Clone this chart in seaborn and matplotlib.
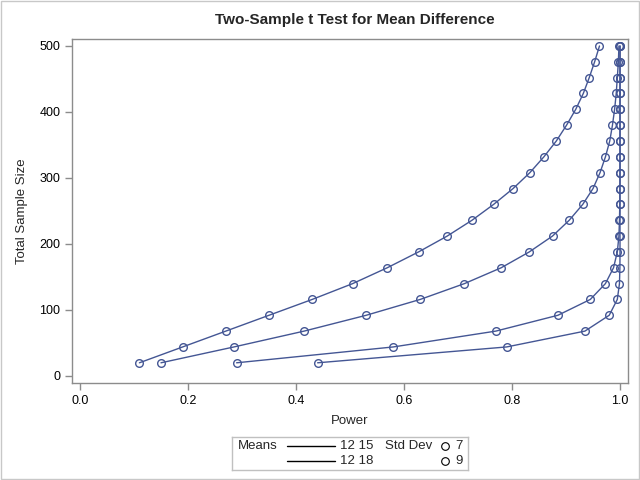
import pandas as pd
import matplotlib.pyplot as plt
import seaborn as sns
from matplotlib.patches import Rectangle
from matplotlib.lines import Line2D

# sample sizes (total N) shared by every curve
sample_sizes = [20, 44, 68, 92, 116, 140, 164, 188, 212, 236, 260,
                284, 308, 332, 356, 380, 404, 428, 452, 476, 500]

# power, one list per means / std dev combo
power_15_sd9 = [0.11, 0.19, 0.27, 0.35, 0.43, 0.505, 0.569, 0.627, 0.680, 0.726, 0.766,
                0.802, 0.833, 0.859, 0.882, 0.901, 0.918, 0.932, 0.943, 0.953, 0.962]
power_15_sd7 = [0.15, 0.285, 0.415, 0.53, 0.63, 0.712, 0.78, 0.832, 0.875, 0.906, 0.931,
                0.950, 0.963, 0.973, 0.981, 0.986, 0.990, 0.993, 0.995, 0.997, 0.998]
power_18_sd9 = [0.29, 0.58, 0.77, 0.885, 0.945, 0.973, 0.988, 0.995, 0.998, 0.999, 0.9996,
                0.9998, 1.0, 1.0, 1.0, 1.0, 1.0, 1.0, 1.0, 1.0, 1.0]
power_18_sd7 = [0.44, 0.79, 0.935, 0.98, 0.995, 0.999, 0.9998, 1.0, 1.0, 1.0, 1.0,
                1.0, 1.0, 1.0, 1.0, 1.0, 1.0, 1.0, 1.0, 1.0, 1.0]

means_labels = ["12 15", "12 18"]
sd_labels = ["7", "9"]

curves = {
    ("12 15", "9"): power_15_sd9,
    ("12 15", "7"): power_15_sd7,
    ("12 18", "9"): power_18_sd9,
    ("12 18", "7"): power_18_sd7,
}

rows = []
for (means, sd), powers in curves.items():
    for n, p in zip(sample_sizes, powers):
        rows.append({"Means": means, "StdDev": sd, "curve": means + "/" + sd,
                     "Power": p, "N": n})
df = pd.DataFrame(rows)

sns.set_style("white")
plt.rcParams['font.family'] = ['Liberation Sans', 'DejaVu Sans']

blue = "#445694"
grey = "#8c8c8c"

fig = plt.figure(figsize=(6.4, 4.8), dpi=100)
# SAS-style outer border
fig.patches.append(Rectangle((0.002, 0.002), 0.996, 0.996, transform=fig.transFigure,
                             fill=False, edgecolor="#c8c8c8", linewidth=1))
ax = fig.add_axes([0.1125, 0.2021, 0.86875, 0.7167])

sns.lineplot(data=df, x="Power", y="N", units="curve", estimator=None, sort=False,
             color=blue, linewidth=1, marker="o", markersize=5.5,
             markerfacecolor="none", markeredgecolor=blue, markeredgewidth=1,
             legend=False, ax=ax)

ax.set_xlim(-0.0148, 1.0148)
ax.set_ylim(-10.6, 510.6)
ax.set_xticks([0.0, 0.2, 0.4, 0.6, 0.8, 1.0])
ax.set_xticklabels(["0.0", "0.2", "0.4", "0.6", "0.8", "1.0"])
ax.set_yticks([0, 100, 200, 300, 400, 500])
ax.tick_params(axis="both", direction="out", length=5, width=1, color=grey,
               labelsize=9, labelcolor="black", bottom=True, left=True)
for s in ax.spines.values():
    s.set_color(grey)
    s.set_linewidth(1)
ax.set_xlabel("Power", fontsize=9.5, labelpad=6)
ax.set_ylabel("Total Sample Size", fontsize=9.5, labelpad=8)

fig.text(0.555, 0.958, "Two-Sample t Test for Mean Difference", ha="center", va="center",
         fontsize=11, fontweight="bold")

# legend box drawn by hand to mimic the SAS layout
lax = fig.add_axes([0.3625, 0.0208, 0.36875, 0.06875])
lax.set_xlim(0, 236)
lax.set_ylim(33, 0)
lax.set_xticks([])
lax.set_yticks([])
for s in lax.spines.values():
    s.set_color("#c0c0c0")
    s.set_linewidth(1)
row_y = [9, 24]
lax.text(6, row_y[0], "Means", fontsize=9.5, va="center")
lax.text(153, row_y[0], "Std Dev", fontsize=9.5, va="center")
for y, m, sd in zip(row_y, means_labels, sd_labels):
    lax.add_line(Line2D([55, 103], [y, y], color="black", linewidth=1))
    lax.text(108, y, m, fontsize=9.5, va="center")
    lax.add_line(Line2D([213], [y], marker="o", markersize=5.5, markerfacecolor="none",
                        markeredgecolor="black", markeredgewidth=0.8, linestyle="none"))
    lax.text(223, y, sd, fontsize=9.5, va="center")

fig.savefig("out.png", dpi=100)
